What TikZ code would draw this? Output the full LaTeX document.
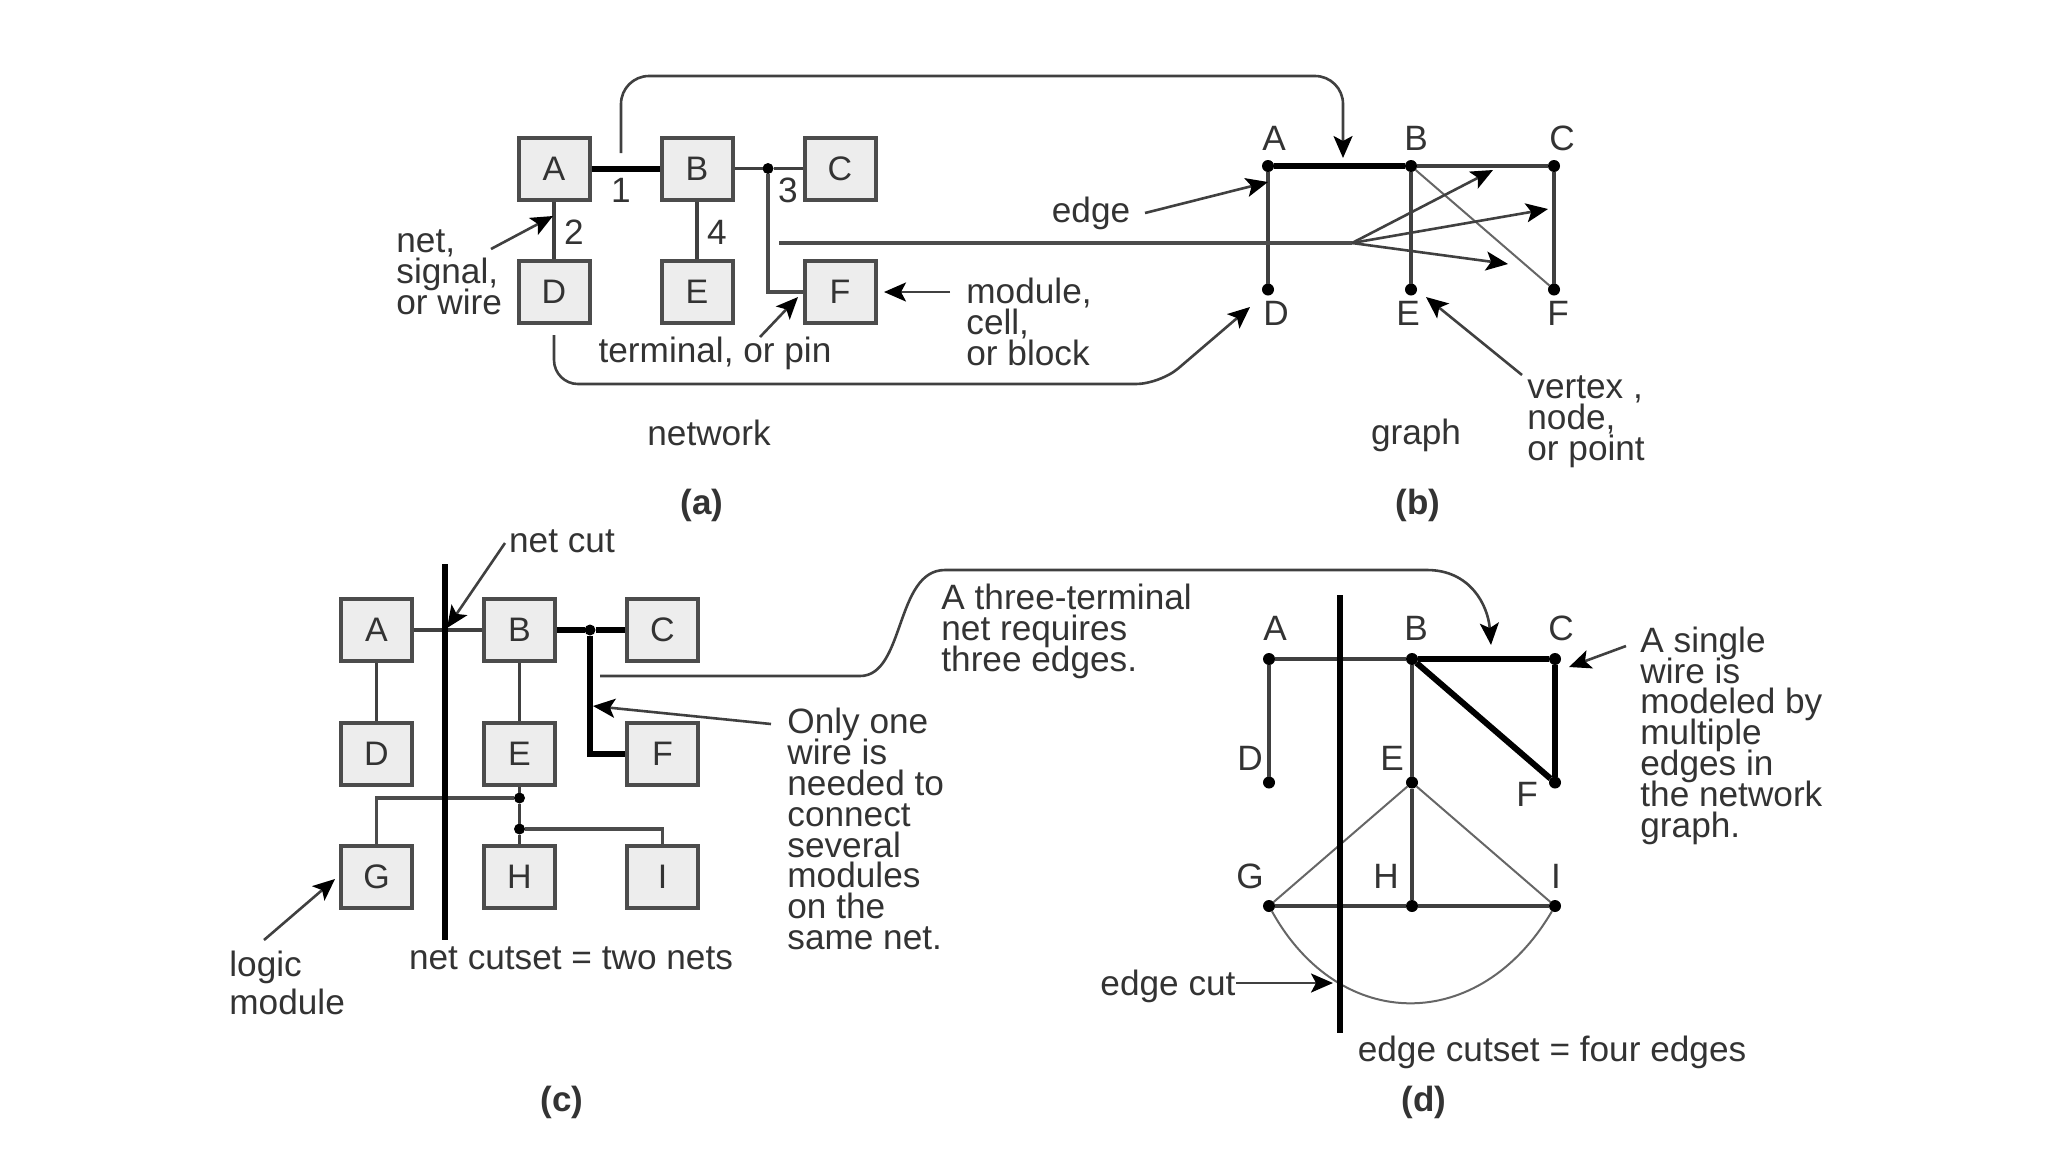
\documentclass[tikz,border=0pt]{standalone}
\usepackage{fontspec}
\setmainfont{Liberation Sans}
\usetikzlibrary{arrows.meta}
\newcommand\tagfont{\fontsize{17.6}{15.4}\selectfont\setlength\lineskiplimit{-6pt}}
\begin{document}
\begin{tikzpicture}[x=.5pt,y=-.5pt,node distance=71.5pt,>={Stealth[length=11pt,width=9.5pt,inset=2.5pt,black]},
                    every node/.style={text=black!80},
                    every edge/.style={draw=black!75,line width=1.6pt}]
  \tikzset{module/.style={draw=black!70,line width=2pt,fill=black!7,inner sep=0pt,
                          minimum width=35.5pt,minimum height=31pt,font=\fontsize{17}{15.4}\selectfont},
           under/.style={node distance=61.75pt,below of=#1},
           vertex/.style={circle,fill=black,inner sep=0pt,outer sep=0pt,minimum size=6pt},
           junction/.style={circle,fill=black,inner sep=0pt,outer sep=0pt,minimum size=5.5pt},
           tag/.style={inner sep=0pt,font=\tagfont},
           note/.style={tag,align=left,anchor=west},
           title/.style={inner sep=0pt,font=\fontsize{17.5}{15.4}\selectfont\bfseries},
           wire/.style={draw=black!70,line width=1.6pt},
           heavy/.style={draw=black,line width=3pt},
           thin wire/.style={draw=black!60,line width=1pt},
           pointer/.style={->,draw=black!75,line width=1.3pt},
           cut/.style={draw=black,line width=3.2pt}}
  \useasboundingbox (0,0) rectangle (2048,1152);

  \node[module]        (aA) at (554,168.5)    {A};
  \node[module]        (aB) [right of=aA]     {B};
  \node[module]        (aC) [right of=aB]     {C};
  \node[module]        (aD) [under=aA]        {D};
  \node[module]        (aE) [under=aB]        {E};
  \node[module]        (aF) [under=aC]        {F};
  \node[junction]      (aJ) at (768,168.5)    {};

  \path (aA) edge[heavy]  (aB)
        (aB) edge         (aJ)
        (aJ) edge         (aC)
        (aA) edge         (aD)
        (aB) edge         (aE);
  \draw[wire] (aJ) |- (aF);

  \node[tag]  (n1) at (621,190) {1};
  \node[tag]  (n2) at (574,232) {2};
  \node[tag]  (n3) at (788,190) {3};
  \node[tag]  (n4) at (717,232) {4};

  \node[note] (net)  at (396,272) {net,\\signal,\\or wire};
  \node[tag]  (pin)  at (715,353) {terminal, or pin};
  \node[note] (cell) at (966,322) {module,\\cell,\\or block};
  \node[tag]  (nw)   at (709,433) {network};
  \node[title] (ta)  at (702,505) {(a)};

  \coordinate (netS)  at (491,249);
  \coordinate (netT)  at (553,216);
  \coordinate (pinS)  at (760,337);
  \coordinate (pinT)  at (798,297);
  \coordinate (cellS) at (950,292);
  \coordinate (cellT) at (884,292);
  \draw[pointer] (netS)  -- (netT);
  \draw[pointer] (pinS)  -- (pinT);
  \draw[pointer] (cellS) -- (cellT);

  \node[vertex]        (bA) at (1268,166)     {};
  \node[vertex]        (bB) [right of=bA]     {};
  \node[vertex]        (bC) [right of=bB]     {};
  \node[vertex]        (bD) [under=bA]        {};
  \node[vertex]        (bE) [under=bB]        {};
  \node[vertex]        (bF) [under=bC]        {};

  \path (bA) edge[heavy]     (bB)
        (bB) edge            (bC)
        (bA) edge            (bD)
        (bB) edge            (bE)
        (bB) edge[thin wire] (bF)
        (bC) edge            (bF);

  \node[tag]  (bAl) at (1274,138) {A};
  \node[tag]  (bBl) at (1416,138) {B};
  \node[tag]  (bCl) at (1562,138) {C};
  \node[tag]  (bDl) at (1276,313) {D};
  \node[tag]  (bEl) at (1408,313) {E};
  \node[tag]  (bFl) at (1558,313) {F};

  \node[tag]  (edge)   at (1091,213) {edge};
  \node[note] (vertex) at (1527,422) {vertex ,\\node,\\or point};
  \node[tag]  (gr)     at (1416,435) {graph};
  \node[title] (tb)    at (1418,505) {(b)};

  \coordinate (edgeS) at (1145,213);
  \coordinate (edgeT) at (1268,182);
  \coordinate (verS)  at (1522,375);
  \coordinate (verT)  at (1426,297);
  \draw[pointer] (edgeS) -- (edgeT);
  \draw[pointer] (verS)  -- (verT);

  \coordinate (upS)  at (621,153);
  \coordinate (upM)  at (1343,76);
  \coordinate (upT)  at (1343,158);
  \draw[pointer,rounded corners=14pt] (upS) |- (upM) -- (upT);

  \coordinate (loS)  at (554,335);
  \coordinate (loM)  at (1160,384);
  \coordinate (loT)  at (1250,307);
  \draw[pointer,rounded corners=12pt] (loS) |- (loM) -- (loT);

  \coordinate (fanS) at (779,243);
  \coordinate (fan)  at (1352,243);
  \coordinate (fanA) at (1493,170);
  \coordinate (fanB) at (1548,209);
  \coordinate (fanC) at (1508,264);
  \draw[wire]    (fanS) -- (fan);
  \draw[pointer] (fan)  -- (fanA);
  \draw[pointer] (fan)  -- (fanB);
  \draw[pointer] (fan)  -- (fanC);

  \node[module]        (cA) at (376.5,630)    {A};
  \node[module]        (cB) [right of=cA]     {B};
  \node[module]        (cC) [right of=cB]     {C};
  \node[module]        (cD) [under=cA]        {D};
  \node[module]        (cE) [under=cB]        {E};
  \node[module]        (cF) [under=cC]        {F};
  \node[module]        (cG) [under=cD]        {G};
  \node[module]        (cH) [under=cE]        {H};
  \node[module]        (cI) [under=cF]        {I};
  \node[junction]      (cJ) at (590,630)      {};
  \node[junction]      (cK) at (519.5,798)    {};
  \node[junction]      (cL) at (519.5,829)    {};

  \path (cA) edge         (cB)
        (cB) edge[heavy]  (cJ)
        (cJ) edge[heavy]  (cC)
        (cA) edge         (cD)
        (cB) edge         (cE)
        (cE) edge         (cK)
        (cK) edge         (cL)
        (cL) edge         (cH);
  \draw[heavy] (cJ) |- (cF);
  \draw[wire]  (cK) -| (cG);
  \draw[wire]  (cL) -| (cI);

  \coordinate (cutT) at (445,564);
  \coordinate (cutB) at (445,940);
  \draw[cut] (cutT) -- (cutB);

  \node[tag]  (ncut)  at (562,541) {net cut};
  \node[tag]  (nset)  at (571,958) {net cutset = two nets};
  \node[note] (logic) at (229,983) {logic\\[3.5pt]module};
  \node[note] (three) at (941,631.5) {A three-terminal\\net requires\\three edges.};
  \node[note] (one)   at (787,829) {Only one\\wire is\\needed to\\connect\\several\\modules\\on the\\same net.};
  \node[title] (tc)   at (562,1102) {(c)};

  \coordinate (ncutS)  at (505,543);
  \coordinate (ncutT)  at (447,628);
  \coordinate (logicS) at (264,940);
  \coordinate (logicT) at (335,879);
  \coordinate (oneS)   at (771,724);
  \coordinate (oneT)   at (593,706);
  \draw[pointer] (ncutS)  -- (ncutT);
  \draw[pointer] (logicS) -- (logicT);
  \draw[pointer] (oneS)   -- (oneT);

  \coordinate (thrA) at (600,676);
  \coordinate (thrB) at (860,676);
  \coordinate (thrC) at (945,570);
  \coordinate (thrD) at (1427,570);
  \coordinate (thrE) at (1491,645);
  \draw[pointer] (thrA) -- (thrB) .. controls (905,676) and (895,570) .. (thrC)
                 -- (thrD) .. controls (1470,570) and (1488,605) .. (thrE);

  \node[vertex]        (dA) at (1269,659)     {};
  \node[vertex]        (dB) [right of=dA]     {};
  \node[vertex]        (dC) [right of=dB]     {};
  \node[vertex]        (dD) [under=dA]        {};
  \node[vertex]        (dE) [under=dB]        {};
  \node[vertex]        (dF) [under=dC]        {};
  \node[vertex]        (dG) [under=dD]        {};
  \node[vertex]        (dH) [under=dE]        {};
  \node[vertex]        (dI) [under=dF]        {};

  \path (dA) edge            (dB)
        (dB) edge[heavy]     (dC)
        (dB) edge[heavy]     (dF)
        (dC) edge[heavy]     (dF)
        (dA) edge            (dD)
        (dB) edge            (dE)
        (dE) edge            (dH)
        (dE) edge[thin wire] (dG)
        (dE) edge[thin wire] (dI)
        (dG) edge            (dH)
        (dH) edge            (dI);
  \draw[thin wire] (dG) .. controls (1340,1034) and (1480,1034) .. (dI);

  \coordinate (dcutT) at (1340,595);
  \coordinate (dcutB) at (1340,1033);
  \draw[cut] (dcutT) -- (dcutB);

  \node[tag]  (dAl) at (1275,628) {A};
  \node[tag]  (dBl) at (1416,628) {B};
  \node[tag]  (dCl) at (1561,628) {C};
  \node[tag]  (dDl) at (1250,758) {D};
  \node[tag]  (dEl) at (1392,758) {E};
  \node[tag]  (dFl) at (1527,794) {F};
  \node[tag]  (dGl) at (1250,876) {G};
  \node[tag]  (dHl) at (1386,876) {H};
  \node[tag]  (dIl) at (1556,876) {I};

  \node[tag]  (ecut)   at (1168,986) {edge cut};
  \node[tag]  (eset)   at (1552,1052) {edge cutset = four edges};
  \node[note] (single) at (1640,735.5) {A single\\wire is\\modeled by\\multiple\\edges in\\the network\\graph.};
  \node[title] (td)    at (1424,1102) {(d)};

  \coordinate (ecutS)   at (1236,983);
  \coordinate (ecutT)   at (1333,983);
  \coordinate (singleS) at (1626,646);
  \coordinate (singleT) at (1569,667);
  \draw[pointer] (ecutS)   -- (ecutT);
  \draw[pointer] (singleS) -- (singleT);
\end{tikzpicture}
\end{document}
